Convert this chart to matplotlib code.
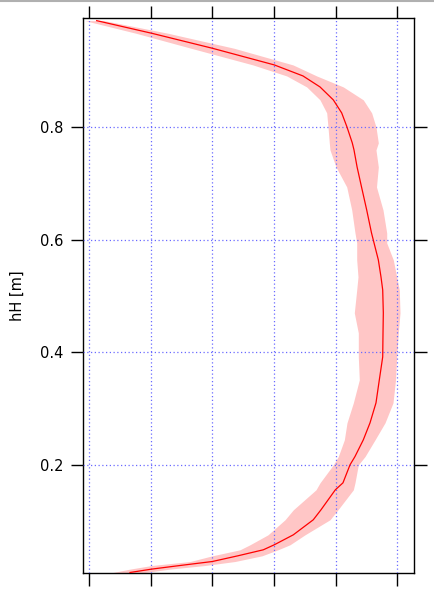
import matplotlib.pyplot as plt
from matplotlib.lines import Line2D

# profile data (x in tick units, no labels shown)
hH = [0.9888, 0.9664, 0.9398, 0.9102, 0.8906, 0.8711, 0.8481, 0.8250, 0.8000,
      0.7717, 0.7592, 0.7290, 0.6935, 0.6527, 0.6119, 0.5942, 0.5640, 0.5338,
      0.5107, 0.4699, 0.4344, 0.3917, 0.3509, 0.3101, 0.2746, 0.2444, 0.2148,
      0.2000, 0.1681, 0.1557, 0.1202, 0.1025, 0.0758, 0.0581, 0.0492, 0.0385,
      0.0284, 0.0213, 0.0149, 0.0089]
mean = [0.12, 1.013, 1.997, 3.003, 3.469, 3.745, 3.961, 4.097, 4.183,
        4.269, 4.297, 4.347, 4.419, 4.503, 4.581, 4.622, 4.692, 4.735,
        4.763, 4.773, 4.768, 4.763, 4.708, 4.654, 4.557, 4.448, 4.313,
        4.232, 4.118, 3.994, 3.761, 3.636, 3.312, 3.003, 2.825, 2.411,
        1.997, 1.472, 1.013, 0.661]
lower = [-0.07, 0.758, 1.651, 2.656, 3.205, 3.529, 3.745, 3.854, 3.875,
         3.896, 3.907, 4.005, 4.179, 4.260, 4.313, 4.341, 4.341, 4.362,
         4.341, 4.302, 4.367, 4.367, 4.383, 4.286, 4.183, 4.140, 4.042,
         3.961, 3.745, 3.680, 3.312, 3.177, 2.901, 2.609, 2.446, 1.997,
         1.635, 1.013, 0.661, 0.385]
upper = [0.24, 1.278, 2.349, 3.307, 3.692, 4.123, 4.448, 4.584, 4.654,
         4.692, 4.654, 4.692, 4.662, 4.768, 4.828, 4.828, 4.935, 4.990,
         5.032, 5.044, 5.016, 4.990, 4.971, 4.930, 4.800, 4.638, 4.476,
         4.367, 4.313, 4.286, 4.037, 3.907, 3.502, 3.258, 3.063, 2.804,
         2.365, 1.878, 1.310, 0.904]
xticks = [0, 1, 2, 3, 4, 5]
yticks = [0.2, 0.4, 0.6, 0.8]

plt.rcParams['font.family'] = ['DejaVu Sans']

fig = plt.figure(figsize=(4.35, 5.95), dpi=100)
ax = fig.add_axes([83 / 435, 22 / 595, 331 / 435, 555 / 595])

ax.fill_betweenx(hH, lower, upper, color='#ffc6c6', linewidth=0, zorder=1)
ax.plot(mean, hH, color='red', linewidth=0.9, zorder=3)

ax.set_xlim(-0.102, 5.271)
ax.set_ylim(0.008, 0.9935)
ax.set_xticks(xticks)
ax.set_yticks(yticks)
ax.set_xticklabels([])
ax.set_yticklabels([f'{t:.1f}' for t in yticks], fontsize=10.5)
ax.tick_params(axis='both', direction='out', length=9, width=1,
               top=True, right=True, pad=5)
ax.grid(True, color='#6a6aff', linestyle=(0, (1, 2)), linewidth=0.9, zorder=2)
ax.set_axisbelow(False)
for s in ax.spines.values():
    s.set_linewidth(1)

ax.set_ylabel('hH [m]', fontsize=10.5, labelpad=11)

# thin window edge at the top of the screenshot
fig.add_artist(Line2D([0, 1], [0.999, 0.999], color='#b0b0b0', linewidth=1.5,
                      transform=fig.transFigure))

fig.savefig('out.png', dpi=100)
